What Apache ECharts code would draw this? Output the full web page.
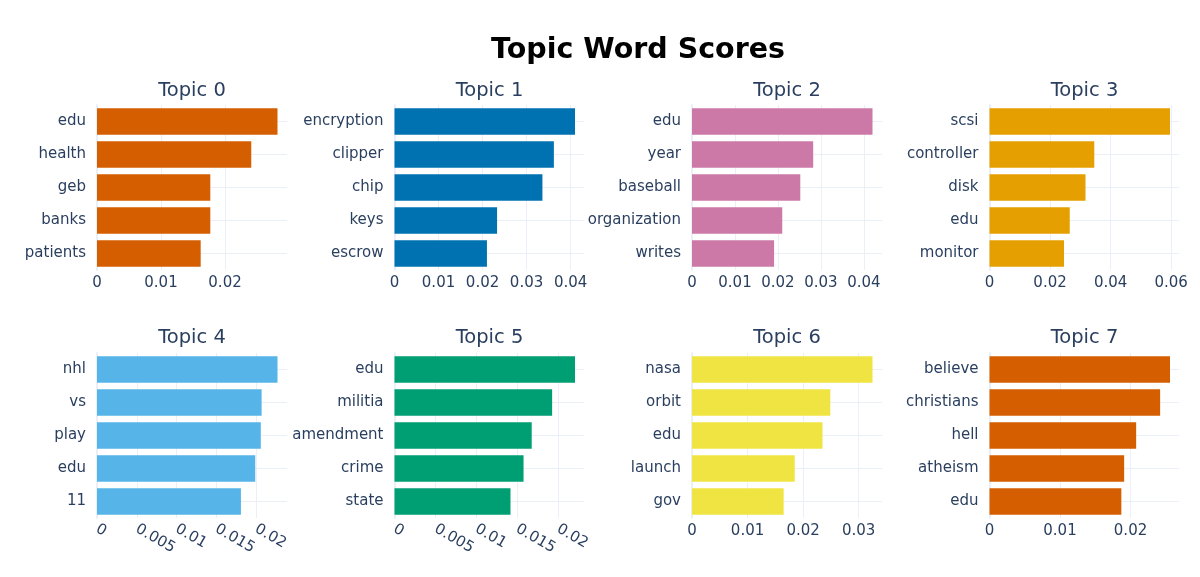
<!DOCTYPE html>
<html>
<head>
<meta charset="utf-8">
<script src="https://cdn.jsdelivr.net/npm/echarts@6/dist/echarts.min.js"></script>
<style>
html,body{margin:0;padding:0;background:#fff;}
#chart{width:1200px;height:577px;}
</style>
</head>
<body>
<div id="chart"></div>
<script>
// ---- data ----
const chartTitle = 'Topic Word Scores';
const topicNames = ['Topic 0','Topic 1','Topic 2','Topic 3','Topic 4','Topic 5','Topic 6','Topic 7'];
const topic0Words = ['edu','health','geb','banks','patients'];
const topic0Scores = [0.0282, 0.0241, 0.0177, 0.0177, 0.0162];
const topic1Words = ['encryption','clipper','chip','keys','escrow'];
const topic1Scores = [0.0410, 0.0362, 0.0336, 0.0233, 0.0210];
const topic2Words = ['edu','year','baseball','organization','writes'];
const topic2Scores = [0.0420, 0.0282, 0.0252, 0.0210, 0.0191];
const topic3Words = ['scsi','controller','disk','edu','monitor'];
const topic3Scores = [0.0596, 0.0346, 0.0317, 0.0265, 0.0246];
const topic4Words = ['nhl','vs','play','edu','11'];
const topic4Scores = [0.0227, 0.0207, 0.0206, 0.0199, 0.0181];
const topic5Words = ['edu','militia','amendment','crime','state'];
const topic5Scores = [0.0221, 0.0193, 0.0168, 0.0158, 0.0142];
const topic6Words = ['nasa','orbit','edu','launch','gov'];
const topic6Scores = [0.0325, 0.0249, 0.0235, 0.0185, 0.0165];
const topic7Words = ['believe','christians','hell','atheism','edu'];
const topic7Scores = [0.0256, 0.0242, 0.0208, 0.0191, 0.0187];
const tickSteps = [0.01, 0.01, 0.01, 0.02, 0.005, 0.005, 0.01, 0.01];

const wordsList = [topic0Words,topic1Words,topic2Words,topic3Words,topic4Words,topic5Words,topic6Words,topic7Words];
const scoresList = [topic0Scores,topic1Scores,topic2Scores,topic3Scores,topic4Scores,topic5Scores,topic6Scores,topic7Scores];
const colors = ['#D55E00','#0072B2','#CC79A7','#E69F00','#56B4E9','#009E73','#F0E442','#D55E00'];
const rotatedLabels = [false, false, false, false, true, true, false, false];

// ---- layout ----
const FONT = 'DejaVu Sans, Verdana, sans-serif';
const colLeft = [97, 394.5, 692, 989.5];
const colWidth = 190;
const rowTop = [105, 353];
const rowHeight = 165;
const subTitleY = [91, 338];

const grids = [], xAxes = [], yAxes = [], series = [];
const titles = [{
  text: chartTitle, left: 638, top: 51, textAlign: 'center', textVerticalAlign: 'middle', padding: 0,
  textStyle: {fontFamily: FONT, fontSize: 28.5, fontWeight: 'bold', color: '#000'}
}];

for (let i = 0; i < 8; i++) {
  const r = Math.floor(i / 4), c = i % 4;
  grids.push({left: colLeft[c], top: rowTop[r], width: colWidth, height: rowHeight, containLabel: false});
  titles.push({
    text: topicNames[i], left: colLeft[c] + colWidth / 2, top: subTitleY[r],
    textAlign: 'center', textVerticalAlign: 'middle', padding: 0,
    textStyle: {fontFamily: FONT, fontSize: 19.5, fontWeight: 'normal', color: '#2a3f5f'}
  });
  xAxes.push({
    type: 'value', gridIndex: i, min: 0,
    max: function (v) { return v.max / 0.95; },
    interval: tickSteps[i],
    axisLine: {show: false}, axisTick: {show: false},
    splitLine: {show: true, showMinLine: false, showMaxLine: false, lineStyle: {color: '#ebf0f8', width: 1}},
    axisLabel: {
      show: true, showMaxLabel: false, fontFamily: FONT, fontSize: 15, color: '#2a3f5f',
      margin: rotatedLabels[i] ? 10 : 6, rotate: rotatedLabels[i] ? -30 : 0
    }
  });
  yAxes.push({
    type: 'category', gridIndex: i, data: wordsList[i], inverse: true,
    axisLine: {show: true, lineStyle: {color: '#ebf0f8', width: 2}},
    axisTick: {show: false, alignWithLabel: true},
    splitLine: {show: true, alignWithLabel: true, lineStyle: {color: '#ebf0f8', width: 1}},
    axisLabel: {fontFamily: FONT, fontSize: 15, color: '#2a3f5f', margin: 11}
  });
  series.push({
    type: 'bar', xAxisIndex: i, yAxisIndex: i, data: scoresList[i],
    barCategoryGap: '20%',
    itemStyle: {color: colors[i]},
    silent: true, animation: false
  });
}

const chart = echarts.init(document.getElementById('chart'), null, {renderer: 'canvas'});
chart.setOption({
  backgroundColor: '#fff',
  animation: false,
  title: titles,
  grid: grids,
  xAxis: xAxes,
  yAxis: yAxes,
  series: series
});
</script>
</body>
</html>
